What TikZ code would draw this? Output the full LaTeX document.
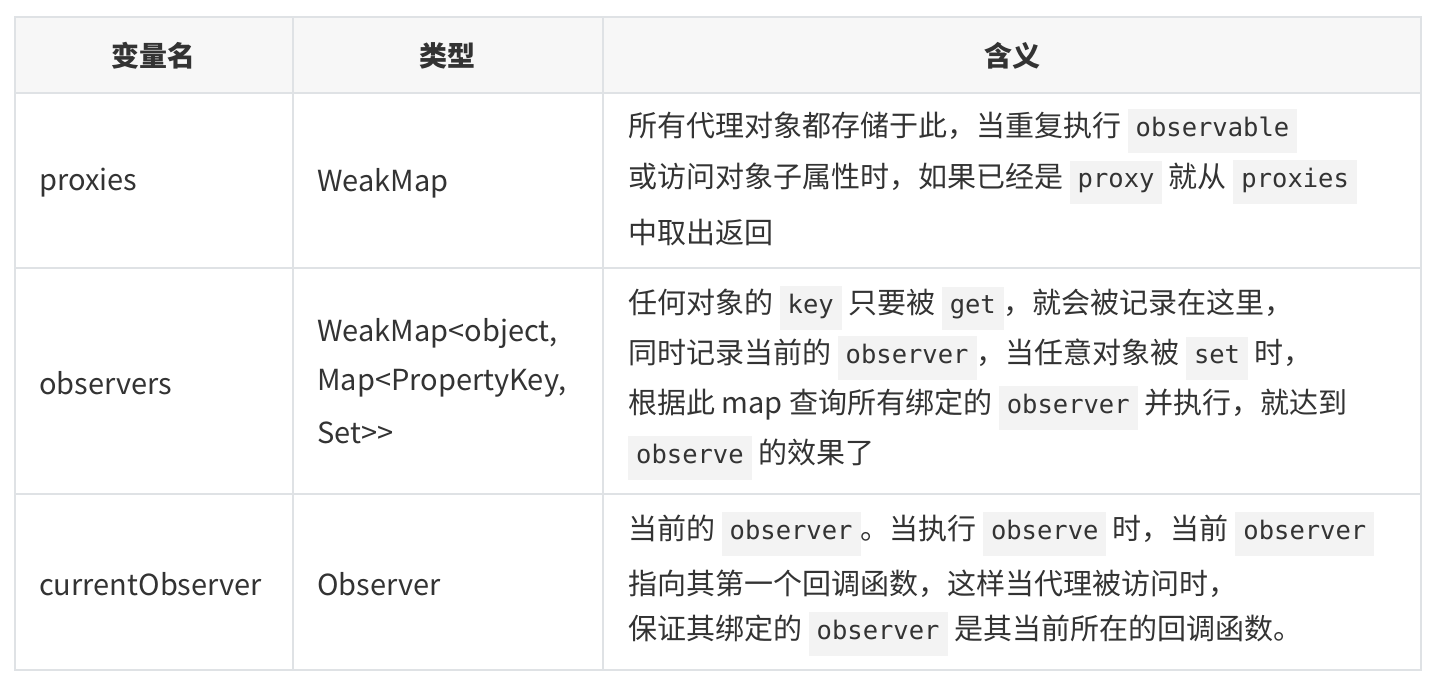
\documentclass[tikz,border=0pt]{standalone}
\usepackage{fontspec}
\setmainfont{Noto Sans CJK SC}
\setmonofont{DejaVu Sans Mono}
\definecolor{txt}{HTML}{333333}
\definecolor{grid}{HTML}{DFE2E5}
\definecolor{hdr}{HTML}{F7F7F7}
\definecolor{codebg}{HTML}{F3F3F3}
\newcommand\cd[1]{{\setlength\fboxsep{8pt}\colorbox{codebg}{\rule[-9pt]{0pt}{27pt}\fontsize{25.5}{28}\ttfamily #1}}}
\begin{document}
\begin{tikzpicture}[x=1pt,y=-1pt,
  cell/.style={anchor=west,inner sep=0pt,text=txt,font=\fontsize{29}{34}\selectfont},
  head/.style={inner sep=0pt,text=txt,font=\fontsize{28}{34}\bfseries}]
\useasboundingbox (0,0) rectangle (1442,690);
\fill[white] (0,0) rectangle (1442,690);
\fill[hdr] (15,17) rectangle (1421,93);
\draw[grid,line width=1.5pt] (15,17) rectangle (1421,670);
\foreach \y in {93,268,494} \draw[grid,line width=1.5pt] (15,\y) -- (1421,\y);
\foreach \x in {293,603} \draw[grid,line width=1.5pt] (\x,17) -- (\x,670);
\node[head] (h1) at (153,56) {变量名};
\node[head] (h2) at (447,56) {类型};
\node[head] (h3) at (1012,56) {含义};
\node[cell] (a1) at (39,183) {proxies};
\node[cell] (b1) at (317,183) {WeakMap};
\node[cell] (c11) at (628,131) {所有代理对象都存储于此，当重复执行 \cd{observable}};
\node[cell] (c12) at (628,182) {或访问对象子属性时，如果已经是 \cd{proxy} 就从 \cd{proxies}};
\node[cell] (c13) at (628,232) {中取出返回};
\node[cell] (a2) at (39,383) {observers};
\node[cell] (b21) at (317,333) {WeakMap<object,};
\node[cell] (b22) at (317,383) {Map<PropertyKey,};
\node[cell] (b23) at (317,433) {Set{>}{>}};
\node[cell] (c21) at (628,308) {任何对象的 \cd{key} 只要被 \cd{get}，就会被记录在这里，};
\node[cell] (c22) at (628,358) {同时记录当前的 \cd{observer}，当任意对象被 \cd{set} 时，};
\node[cell] (c23) at (628,408) {根据此 map 查询所有绑定的 \cd{observer} 并执行，就达到};
\node[cell] (c24) at (628,458) {\cd{observe} 的效果了};
\node[cell] (a3) at (39,584) {currentObserver};
\node[cell] (b3) at (317,584) {Observer};
\node[cell] (c31) at (628,534) {当前的 \cd{observer}。当执行 \cd{observe} 时，当前 \cd{observer}};
\node[cell] (c32) at (628,584) {指向其第一个回调函数，这样当代理被访问时，};
\node[cell] (c33) at (628,634) {保证其绑定的 \cd{observer} 是其当前所在的回调函数。};
\end{tikzpicture}
\end{document}
